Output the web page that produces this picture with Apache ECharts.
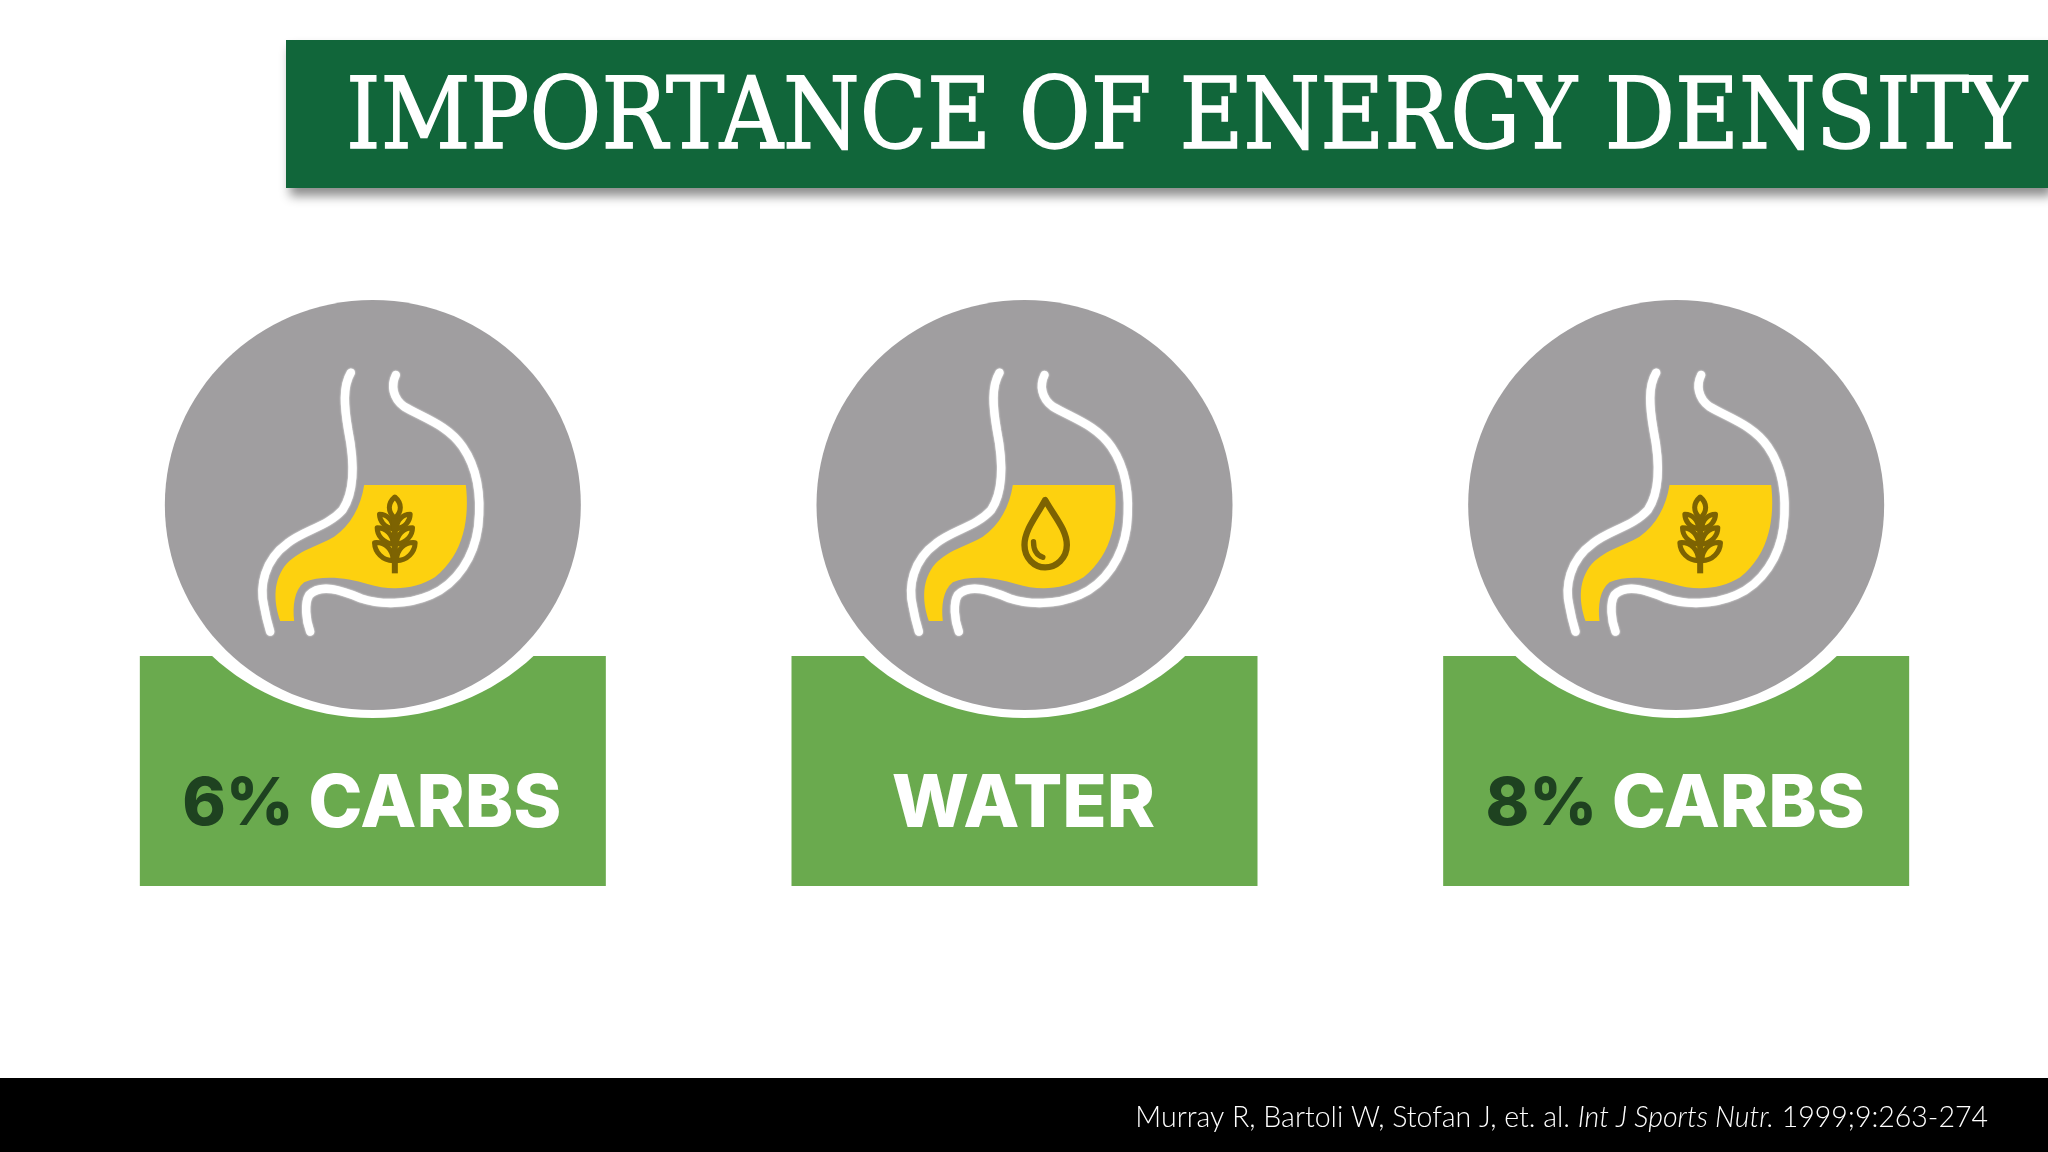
<!DOCTYPE html>
<html>
<head>
<meta charset="utf-8">
<style>
  html, body { margin: 0; padding: 0; background: #fff; }
  #chart { width: 2048px; height: 1152px; }
</style>
<script src="https://cdn.jsdelivr.net/npm/echarts@6/dist/echarts.min.js"></script>
</head>
<body>
<div id="chart"></div>
<script>
const titleText = 'IMPORTANCE OF ENERGY DENSITY';
const categories = ['6% CARBS', 'WATER', '8% CARBS'];
const percentLabels = ['6%', '', '8%'];
const drinkLabels = ['CARBS', 'WATER', 'CARBS'];
const contentIcons = ['wheat', 'drop', 'wheat'];
const citationPlain = 'Murray R, Bartoli W, Stofan J, et. al. ';
const citationJournal = 'Int J Sports Nutr.';
const citationRest = ' 1999;9:263-274';

// stomach outlines, drawn at 3x and scaled down in renderItem
const stomachLeft = 'M360,68 C335,110 340,170 352,240 C370,330 375,420 335,480 C290,530 220,540 170,580 C100,630 85,710 100,770 C105,800 112,825 118,845';
const stomachRight = 'M495,75 C480,105 485,145 520,170 C580,205 650,225 695,290 C740,355 752,440 742,530 C730,620 680,700 600,735 C530,765 450,765 390,745 C330,720 270,700 235,735 C220,760 225,810 238,845';
const stomachFill = 'M400,405 L705,405 C716,500 702,610 612,682 C555,718 480,724 410,702 C350,682 270,674 220,697 C190,720 185,770 190,813 L148,813 C130,760 125,700 160,650 C200,600 260,590 310,560 C360,525 390,470 400,405 Z';
const dropOutline = 'M497,450 C470,500 435,540 435,585 C435,625 465,652 497,652 C530,652 562,625 562,585 C562,540 525,500 497,450 Z';
const dropShine = 'M462,575 C462,600 470,615 490,622';
const wheatLeaves = [
  'M492,441 C514,460 514,485 492,505 C470,485 470,460 492,441 Z',
  'M487,537 C460,532 446,512 446,493 C468,493 487,510 487,537 Z',
  'M497,537 C524,532 538,512 538,493 C516,493 497,510 497,537 Z',
  'M487,583 C457,578 439,557 439,533 C466,533 487,555 487,583 Z',
  'M497,583 C527,578 545,557 545,533 C518,533 497,555 497,583 Z',
  'M487,632 C455,632 432,607 431,578 C464,575 487,600 487,632 Z',
  'M497,632 C529,632 552,607 553,578 C520,575 497,600 497,632 Z'
];
const wheatStem = 'M492,505 L492,670';

const stomachShift = [3, 0, 5];
const iconColor = '#7d6302';
const titleWidth = 1681;

function iconParts(name) {
  if (name === 'drop') {
    return [
      { type: 'path', shape: { pathData: dropOutline }, style: { fill: 'none', stroke: iconColor, lineWidth: 19, lineJoin: 'round' } },
      { type: 'path', shape: { pathData: dropShine }, style: { fill: 'none', stroke: iconColor, lineWidth: 16, lineCap: 'round' } }
    ];
  }
  const parts = wheatLeaves.map(function (d) {
    return { type: 'path', shape: { pathData: d }, style: { fill: '#fdd10f', stroke: iconColor, lineWidth: 15, lineJoin: 'round' } };
  });
  parts.push({ type: 'path', shape: { pathData: wheatStem }, style: { fill: 'none', stroke: iconColor, lineWidth: 18 } });
  return parts;
}

function renderPanel(params, api) {
  const i = params.dataIndex;
  const c = api.coord([i, 0]);
  const r = api.size([0, 2])[1] / 2;
  const cx = c[0], cy = c[1];
  const line = { fill: 'none', stroke: '#fff', lineWidth: 25, lineCap: 'round', lineJoin: 'round', shadowBlur: 2, shadowColor: '#fff' };
  const label = percentLabels[i]
    ? '{dark|' + percentLabels[i] + ' }{light|' + drinkLabels[i] + '}'
    : '{light|' + drinkLabels[i] + '}';
  const textRich = {
    dark: { fill: '#1e4220', fontFamily: 'Inter', fontWeight: 800, fontSize: 66 },
    light: { fill: '#fff', fontFamily: 'Inter', fontWeight: 800, fontSize: 73 }
  };
  return {
    type: 'group',
    children: [
      { type: 'rect', shape: { x: cx - 233, y: 656, width: 466, height: 230 }, style: { fill: '#6aaa4e' } },
      { type: 'ellipse', shape: { cx: cx, cy: cy - 3, rx: r + 20, ry: r + 5 }, style: { fill: '#fff' } },
      { type: 'ellipse', shape: { cx: cx, cy: cy - 3, rx: r, ry: r - 3 }, style: { fill: '#a09ea0' } },
      {
        type: 'group',
        x: cx - 145 + stomachShift[i],
        y: cy - 158,
        scaleX: 1 / 3,
        scaleY: 1 / 3,
        children: [
          { type: 'path', shape: { pathData: stomachFill }, style: { fill: '#fdd10f' } },
          { type: 'path', shape: { pathData: stomachLeft }, style: line },
          { type: 'path', shape: { pathData: stomachRight }, style: line }
        ].concat(iconParts(contentIcons[i]))
      },
      {
        type: 'text',
        style: { x: cx - 1, y: 805, text: label, rich: textRich, align: 'center', verticalAlign: 'middle' }
      }
    ]
  };
}

// squeeze the serif title into the width it has in the slide
const measure = document.createElement('canvas').getContext('2d');
measure.font = '100px "DejaVu Serif"';
const titleScale = titleWidth / measure.measureText(titleText).width;

const chart = echarts.init(document.getElementById('chart'), null, { renderer: 'canvas' });
chart.setOption({
  backgroundColor: '#ffffff',
  animation: false,
  grid: { left: 47, width: 1955, top: 300, height: 416 },
  xAxis: { type: 'category', data: categories, show: false },
  yAxis: { type: 'value', min: -1, max: 1, show: false },
  series: [{
    type: 'custom',
    data: categories.map(function (name, i) { return [i, 0]; }),
    encode: { x: 0, y: 1 },
    renderItem: renderPanel,
    silent: true,
    clip: false
  }],
  graphic: [
    {
      type: 'rect',
      shape: { x: 286, y: 40, width: 1762, height: 148 },
      style: { fill: '#11663a', shadowBlur: 10, shadowOffsetX: 4, shadowOffsetY: 8, shadowColor: 'rgba(0,0,0,0.45)' }
    },
    {
      type: 'text',
      x: 346,
      y: 122,
      scaleX: titleScale,
      scaleY: 1,
      style: { text: titleText, fill: '#fff', stroke: '#fff', lineWidth: 1.5, font: '100px "DejaVu Serif"', verticalAlign: 'middle' }
    },
    { type: 'rect', shape: { x: 0, y: 1078, width: 2048, height: 74 }, style: { fill: '#000' } },
    {
      type: 'text',
      x: 1988,
      y: 1118,
      style: {
        text: '{n|' + citationPlain + '}{i|' + citationJournal + '}{n|' + citationRest + '}',
        align: 'right',
        verticalAlign: 'middle',
        rich: {
          n: { fill: '#fff', fontFamily: 'Lato', fontWeight: 300, fontSize: 28.5 },
          i: { fill: '#fff', fontFamily: 'Lato', fontWeight: 300, fontStyle: 'italic', fontSize: 28.5 }
        }
      }
    }
  ]
});
</script>
</body>
</html>
